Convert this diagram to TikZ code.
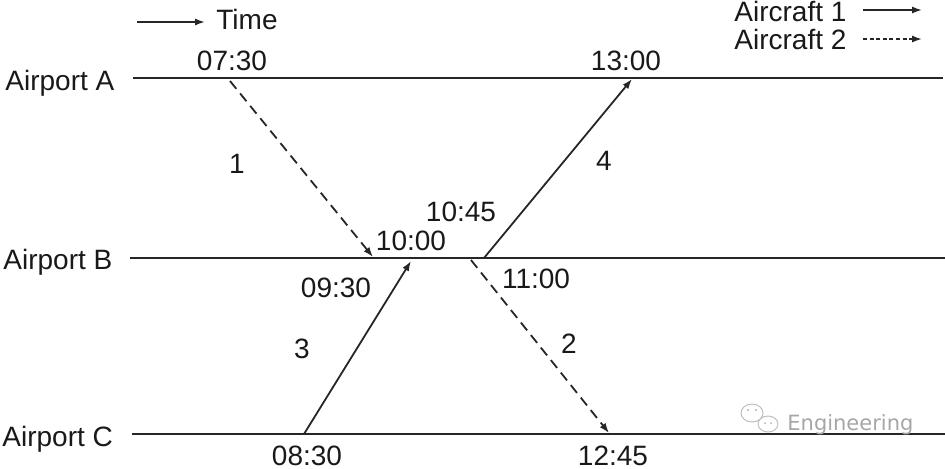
\documentclass[tikz,border=0pt]{standalone}
\usepackage{fontspec}
\setmainfont{Liberation Sans}
\newfontfamily\wmfont{DejaVu Sans}
\usetikzlibrary{arrows.meta}
\begin{document}
\begin{tikzpicture}[x=0.5pt,y=-0.5pt,
  lbl/.style={font=\fontsize{14}{16}\selectfont, inner sep=0pt, anchor=base, text=black!90},
  lblw/.style={lbl, anchor=base west},
  airline/.style={line width=1.1pt, draw=black!85},
  flight/.style={line width=0.9pt, draw=black!85, -{Latex[length=5pt,width=3.6pt]}},
  flight2/.style={flight, dash pattern=on 5pt off 3pt},
  legend2/.style={flight, dash pattern=on 2pt off 1.3pt}]
\useasboundingbox (0,0) rectangle (945,468);
% airport lines
\coordinate (Aw) at (133,78);  \coordinate (Ae) at (943,78);
\coordinate (Bw) at (130,258); \coordinate (Be) at (945,258);
\coordinate (Cw) at (132,434); \coordinate (Ce) at (945,434);
\draw[airline] (Aw) -- (Ae);
\draw[airline] (Bw) -- (Be);
\draw[airline] (Cw) -- (Ce);
\node[lblw] (labA) at (5,90) {Airport A};
\node[lblw] (labB) at (3,269) {Airport B};
\node[lblw] (labC) at (2,446) {Airport C};
% time legend
\coordinate (t0) at (137,22); \coordinate (t1) at (205,22);
\draw[flight] (t0) -- (t1);
\node[lblw] (time) at (216,29) {Time};
% aircraft legend
\node[lblw] (ac1) at (734,21) {Aircraft 1};
\node[lblw] (ac2) at (734,49) {Aircraft 2};
\coordinate (l1a) at (863,10); \coordinate (l1b) at (922,10);
\coordinate (l2a) at (863,39); \coordinate (l2b) at (922,39);
\draw[flight] (l1a) -- (l1b);
\draw[legend2] (l2a) -- (l2b);
% flight points
\coordinate (f1s) at (230,81);  \coordinate (f1e) at (373,257);
\coordinate (f3s) at (304,434); \coordinate (f3e) at (411,261);
\coordinate (f4s) at (484,258); \coordinate (f4e) at (632,79);
\coordinate (f2s) at (471,260); \coordinate (f2e) at (609,433);
\draw[flight2] (f1s) -- (f1e);
\draw[flight] (f3s) -- (f3e);
\draw[flight] (f4s) -- (f4e);
\draw[flight2] (f2s) -- (f2e);
% time labels
\node[lbl] (t0730) at (232,70) {07:30};
\node[lbl] (t1300) at (626,70) {13:00};
\node[lbl] (t1000) at (411,250) {10:00};
\node[lbl] (t1045) at (461,221) {10:45};
\node[lbl] (t0930) at (336,297) {09:30};
\node[lbl] (t1100) at (536,288) {11:00};
\node[lbl] (t0830) at (307,465) {08:30};
\node[lbl] (t1245) at (613,465) {12:45};
% flight numbers
\node[lbl] (n1) at (237,173) {1};
\node[lbl] (n4) at (604,170) {4};
\node[lbl] (n3) at (302,358) {3};
\node[lbl] (n2) at (569,353) {2};
% watermark
\begin{scope}[draw=black!25, line width=0.5pt]
  \draw[fill=white] (752,413) ellipse [x radius=11, y radius=9];
  \draw[fill=white] (768,424) ellipse [x radius=10, y radius=8];
  \fill[black!30] (748,410) circle (1.2) (756,410) circle (1.2)
                  (765,423) circle (1) (771,423) circle (1);
\end{scope}
\node[inner sep=0pt, anchor=base west, text=black!35, font=\wmfont\fontsize{10.5}{12}\selectfont] (wm) at (787,430) {Engineering};
\end{tikzpicture}
\end{document}
